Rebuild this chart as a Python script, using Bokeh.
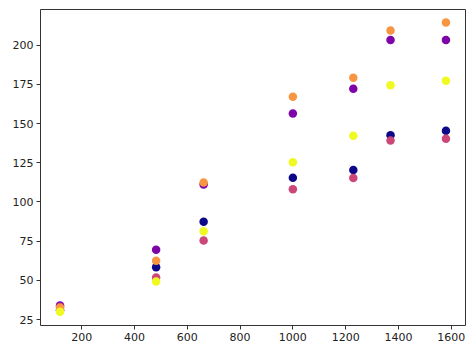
from bokeh.plotting import figure
from bokeh.models import Range1d, FixedTicker
from bokeh.embed import file_html
from bokeh.resources import INLINE

x = [118, 482, 662, 1000, 1229, 1370, 1580]
s_navy = [31, 58.4, 87.4, 115.5, 120.4, 142.5, 145.5]
s_purple = [34, 69.5, 111.2, 156.4, 172.3, 203.4, 203.4]
s_pink = [33, 51.8, 75.5, 108.2, 115.3, 139.3, 140.4]
s_orange = [32.5, 62.5, 112.5, 167.2, 179.3, 209.4, 214.5]
s_yellow = [30, 49.3, 81.4, 125.3, 142.3, 174.5, 177.4]
series = [s_navy, s_purple, s_pink, s_orange, s_yellow]
colors = ["#0d0887", "#7e03a8", "#cc4778", "#f89540", "#f0f921"]
x_ticks = [200, 400, 600, 800, 1000, 1200, 1400, 1600]
y_ticks = [25, 50, 75, 100, 125, 150, 175, 200]

p = figure(width=474, height=354, output_backend="svg", toolbar_location=None,
           x_range=Range1d(44, 1654), y_range=Range1d(21.2, 222.8),
           min_border_left=40, min_border_right=9, min_border_top=9, min_border_bottom=29)
for ys, c in zip(series, colors):
    p.scatter(x, ys, size=8.5, fill_color=c, line_color=c, line_width=0)

p.xgrid.visible = False
p.ygrid.visible = False
p.outline_line_color = "#333333"
p.outline_line_width = 1
p.xaxis.ticker = FixedTicker(ticks=x_ticks)
p.yaxis.ticker = FixedTicker(ticks=y_ticks)
for ax in (p.xaxis, p.yaxis):
    ax.axis_line_color = None
    ax.major_tick_line_color = "#333333"
    ax.major_tick_out = 4
    ax.major_tick_in = 0
    ax.minor_tick_line_color = None
    ax.major_label_text_font = "DejaVu Sans"
    ax.major_label_text_font_size = "11px"
    ax.major_label_text_color = "#222222"
    ax.major_label_standoff = 3

open("out.html", "w").write(file_html(p, INLINE))
